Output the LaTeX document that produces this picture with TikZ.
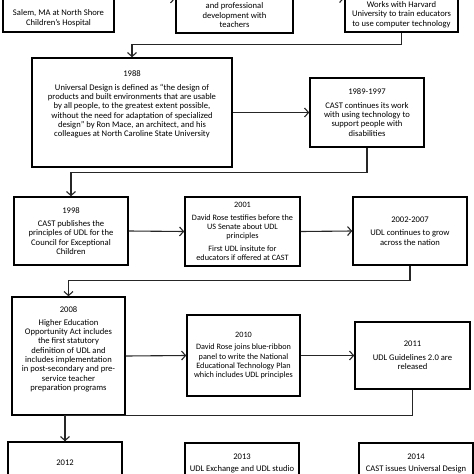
\documentclass[tikz,border=0pt]{standalone}
\usepackage{fontspec}
\setmainfont{Carlito}
\usetikzlibrary{arrows.meta}
\tikzset{
  box/.style={draw=black, line width=1.5pt, fill=white, inner sep=0pt, align=center,
    font=\fontsize{8.6}{9.3}\selectfont},
  smallbox/.style={box, font=\fontsize{8.2}{9.4}\selectfont},
  txt/.style={inner sep=0pt, align=center, font=\fontsize{8.6}{9.6}\selectfont},
  conn/.style={draw=black!85, line width=1.1pt},
  arr/.style={conn, -{Straight Barb[length=4pt,width=9pt,line width=1.1pt]}},
}
\newcommand{\boxat}[6]{% name, x1, y1, x2, y2, style
  \node[#6, minimum width={#4-#2}, minimum height={#5-#3}] (#1) at ({(#2+#4)/2},{(#3+#5)/2})}
\begin{document}
\begin{tikzpicture}[x=1pt,y=-1pt]
\useasboundingbox (0,0) rectangle (474,474);
\clip (0,0) rectangle (474,474);
% top row (cut off)
\boxat{b1}{3}{-36}{114}{32}{box} {};
\boxat{b2}{176}{-36}{293}{33}{box} {};
\boxat{b3}{345}{-36}{458}{32}{box} {};
\node[txt, anchor=south] (t1) at (58.5,27) {Salem, MA at North Shore\\Children's Hospital};
\node[txt, anchor=south] (t2) at (234.5,28) {and professional\\development with\\teachers};
\node[txt, anchor=south] (t3) at (401.5,28) {Works with Harvard\\University to train educators\\to use computer technology};
\draw[arr] (b1.east) -- (b2.west);
\draw[arr] (b2.east) -- (b3.west);
% 1988
\boxat{n1988}{32}{58}{232}{167}{box} {1988\\[4pt]Universal Design is defined as “the design of\\products and built environments that are usable\\by all people, to the greatest extent possible,\\without the need for adaptation of specialized\\design” by Ron Mace, an architect, and his\\colleagues at North Caroline State University\\[8pt]};
\boxat{n1989}{310}{78}{424}{147}{box} {1989-1997\\[4pt]CAST continues its work\\with using technology to\\support people with\\disabilities};
\draw[arr] (b3.south) -- ++(0,12) -| (n1988.north);
\draw[arr] (n1988.east) -- (n1989.west);
% 1998 row
\boxat{n1998}{14}{197}{128}{265}{box} {1998\\[4pt]CAST publishes the\\principles of UDL for the\\Council for Exceptional\\Children};
\boxat{n2001}{185}{197}{300}{266}{smallbox} {2001\\[3pt]David Rose testifies before the\\US Senate about UDL\\principles\\[3pt]First UDL insitute for\\educators if offered at CAST};
\boxat{n2002}{353}{197}{467}{265}{box} {2002-2007\\[4pt]UDL continues to grow\\across the nation};
\draw[arr] (n1989.south) -- ++(0,25) -| (n1998.north);
\draw[arr] (n1998.east) -- (n2001.west);
\draw[arr] (n2001.east) -- (n2002.west);
% 2008 row
\boxat{n2008}{12}{297}{125}{415}{box} {2008\\[4pt]Higher Education\\Opportunity Act includes\\the first statutory\\definition of UDL and\\includes implementation\\in post-secondary and pre-\\service teacher\\preparation programs\\[6pt]};
\boxat{n2010}{187}{315}{300}{396}{smallbox} {2010\\[3pt]David Rose joins blue-ribbon\\panel to write the National\\Educational Technology Plan\\which includes UDL principles};
\boxat{n2011}{355}{322}{470}{389}{box} {2011\\[4pt]UDL Guidelines 2.0 are\\released};
\draw[arr] (n2002.south) -- ++(0,15) -| (n2008.north);
\draw[arr] (n2008.east) -- (n2010.west);
\draw[arr] (n2010.east) -- (n2011.west);
% bottom row (cut off)
\boxat{n2012}{8}{442}{122}{520}{box} {};
\boxat{n2013}{185}{443}{299}{520}{box} {};
\boxat{n2014}{359}{443}{473}{520}{box} {};
\node[txt, anchor=north] (t2012) at (65,460) {2012};
\node[txt, anchor=north] (t2013) at (242,454) {2013\\[2pt]UDL Exchange and UDL studio};
\node[txt, anchor=north] (t2014) at (416,454) {2014\\[2pt]CAST issues Universal Design};
\draw[conn] (n2011.south) -- ++(0,26) -| (n2012.north);
\draw[arr] (n2008.south -| n2012.north) -- (n2012.north);
\draw[arr] (n2012.east) -- (n2013.west);
\draw[arr] (n2013.east) -- (n2014.west);
\end{tikzpicture}
\end{document}
